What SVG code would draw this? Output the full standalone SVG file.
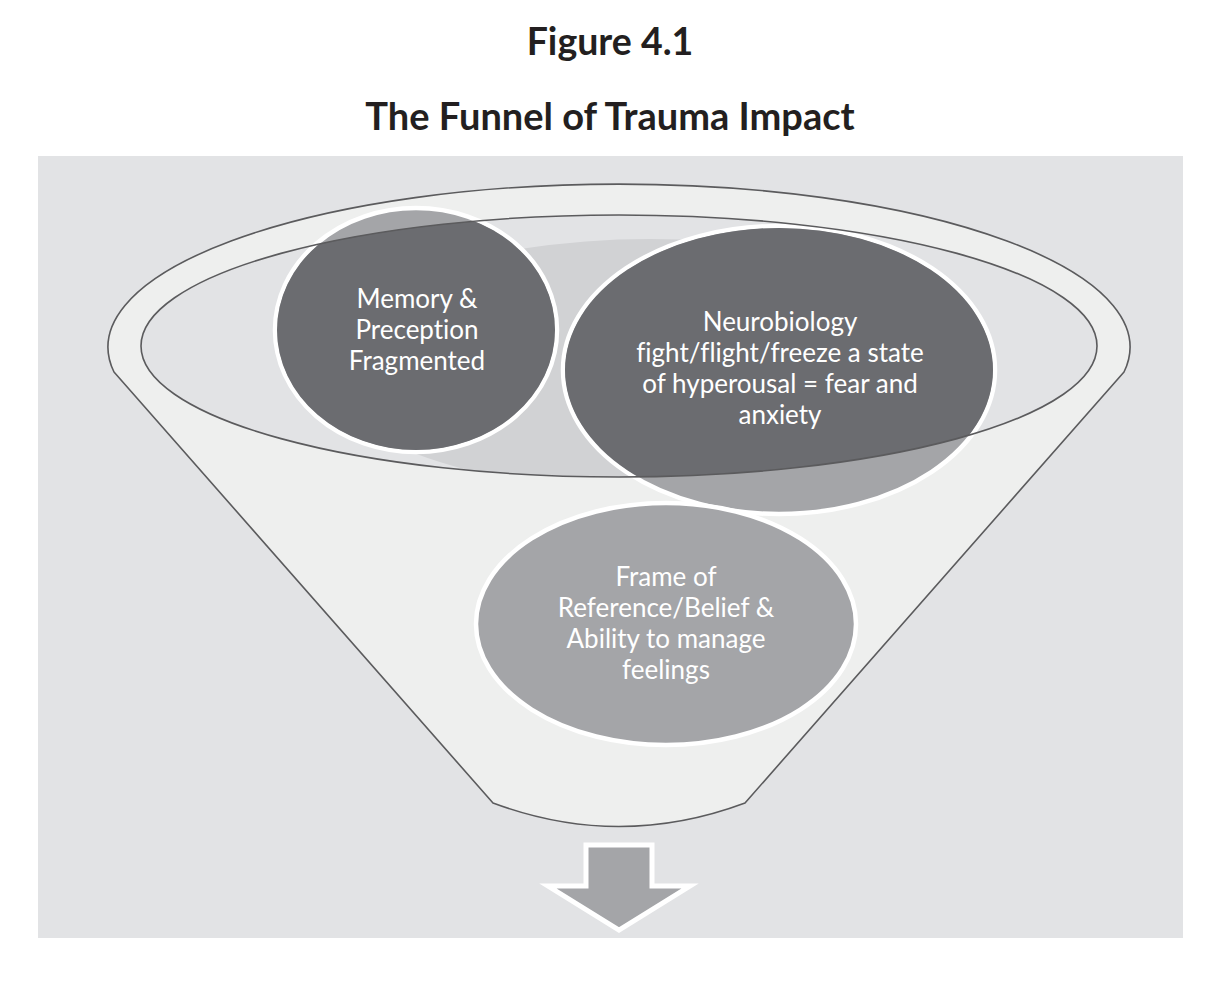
<svg xmlns="http://www.w3.org/2000/svg" width="1222" height="1004" viewBox="0 0 1222 1004">
<defs>
<style>
.title{font-family:"Lato","Liberation Sans",sans-serif;font-weight:bold;fill:#231f20;text-anchor:middle}
.lbl{font-family:"Lato","Open Sans","Liberation Sans",sans-serif;font-size:26px;fill:#ffffff;text-anchor:middle;font-variant-ligatures:none}
.outline{fill:none;stroke:#5b5b5d;stroke-width:1.6}
.node{stroke:#ffffff;stroke-width:4.5}
</style>
<clipPath id="inner"><ellipse cx="619" cy="346" rx="478" ry="131"/></clipPath>
</defs>
<rect x="0" y="0" width="1222" height="1004" fill="#ffffff"/>
<text class="title" x="610" y="55" font-size="37.5">Figure 4.1</text>
<text class="title" x="610" y="130" font-size="38">The Funnel of Trauma Impact</text>
<rect x="38" y="156" width="1145" height="782" fill="#e2e3e5"/>
<g id="funnel">
<path d="M114,372 A511,163 0 1 1 1124,372 L745,803 Q619,850 493,803 Z" fill="#eeefee" stroke="#5b5b5d" stroke-width="1.6" stroke-linejoin="round"/>
<ellipse cx="619" cy="346" rx="478" ry="131" fill="#e2e3e5"/>
<ellipse cx="650" cy="365" rx="330" ry="126" fill="#d1d2d4" clip-path="url(#inner)"/>
</g>
<g id="node-memory">
<ellipse class="node" cx="416" cy="330" rx="141" ry="122" fill="#a4a5a8"/>
<ellipse cx="416" cy="330" rx="139" ry="120" fill="#6b6c70" clip-path="url(#inner)"/>
<text class="lbl" x="417" y="308">Memory &amp;</text>
<text class="lbl" x="417" y="339">Preception</text>
<text class="lbl" x="417" y="370">Fragmented</text>
</g>
<g id="node-neuro">
<ellipse class="node" cx="779" cy="370" rx="216" ry="144" fill="#a4a5a8"/>
<ellipse cx="779" cy="370" rx="214" ry="142" fill="#6b6c70" clip-path="url(#inner)"/>
<text class="lbl" x="780" y="331">Neurobiology</text>
<text class="lbl" x="780" y="362">fight/flight/freeze a state</text>
<text class="lbl" x="780" y="393">of hyperousal = fear and</text>
<text class="lbl" x="780" y="424">anxiety</text>
</g>
<g id="rim">
<ellipse class="outline" cx="619" cy="346" rx="478" ry="131"/>
</g>
<g id="node-frame">
<ellipse class="node" cx="666" cy="624" rx="190" ry="121" fill="#a4a5a8"/>
<text class="lbl" x="666" y="586">Frame of</text>
<text class="lbl" x="666" y="617">Reference/Belief &amp;</text>
<text class="lbl" x="666" y="648">Ability to manage</text>
<text class="lbl" x="666" y="679">feelings</text>
</g>
<g id="connectors">
<path d="M586,845 L652,845 L652,886 L690,886 L619,930 L548,886 L586,886 Z" fill="#a4a5a8" stroke="#ffffff" stroke-width="5" stroke-linejoin="miter"/>
</g>
</svg>
